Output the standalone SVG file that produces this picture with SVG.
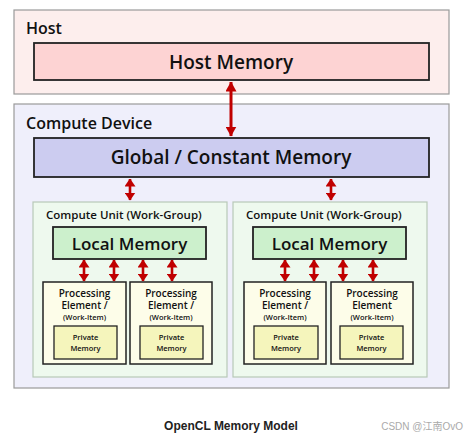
<svg xmlns="http://www.w3.org/2000/svg" width="474" height="438" viewBox="0 0 474 438">
<style>
text{font-family:"Open Sans","DejaVu Sans",sans-serif;fill:#111;font-weight:600}
.outer{stroke:#9a9a9a;stroke-width:1.2}
.mem{stroke:#222;stroke-width:1.8}
.cu{fill:#eef9ee;stroke:#b8c8b8;stroke-width:1.2}
.pe{fill:#fdfde9;stroke:#222;stroke-width:1.5}
.pm{fill:#f5f5bc;stroke:#222;stroke-width:1.3}
.pt{font-size:10px;text-anchor:middle}
.wi{font-size:7.5px;text-anchor:middle;font-weight:600}
.pmt{font-size:7.5px;text-anchor:middle}
.arr{stroke:#c00000;stroke-width:2.6;fill:none;marker-start:url(#ah);marker-end:url(#ah)}
.big{stroke-width:3;marker-start:url(#ahb);marker-end:url(#ahb)}
</style>
<defs>
<marker id="ah" viewBox="0 0 8 11" refX="7.5" refY="5.5" markerWidth="8" markerHeight="11" orient="auto-start-reverse" markerUnits="userSpaceOnUse">
<path d="M0,0 L8,5.5 L0,11 z" fill="#c00000"/>
</marker>
<marker id="ahb" viewBox="0 0 10 11" refX="9.5" refY="5.5" markerWidth="10" markerHeight="11" orient="auto-start-reverse" markerUnits="userSpaceOnUse">
<path d="M0,0 L10,5.5 L0,11 z" fill="#c00000"/>
</marker>
</defs>
<rect width="474" height="438" fill="#fff"/>
<g id="host">
<rect class="outer" x="14" y="10" width="435" height="84" fill="#fdeeed"/>
<text x="26" y="34" font-size="16">Host</text>
</g>
<g id="host-memory">
<rect class="mem" x="34" y="43" width="395" height="37" fill="#fdd3d3"/>
<text x="231" y="69" font-size="19" text-anchor="middle">Host Memory</text>
</g>
<g id="compute-device">
<rect class="outer" x="14" y="104" width="435" height="284" fill="#efeffb"/>
<text x="26" y="129" font-size="16">Compute Device</text>
</g>
<g id="global-memory">
<rect class="mem" x="34" y="138" width="395" height="39" fill="#ccccf0"/>
<text x="231" y="164" font-size="19" text-anchor="middle">Global / Constant Memory</text>
</g>
<g id="cu1">
<rect class="cu" x="33" y="202" width="194" height="175"/>
<text x="46" y="219" font-size="11.5">Compute Unit (Work-Group)</text>
</g>
<g id="lm1">
<rect class="mem" x="53" y="227" width="153" height="32" fill="#ccf0cc"/>
<text x="129.5" y="250" font-size="17" text-anchor="middle">Local Memory</text>
</g>
<g id="cu2">
<rect class="cu" x="233" y="202" width="194" height="175"/>
<text x="246" y="219" font-size="11.5">Compute Unit (Work-Group)</text>
</g>
<g id="lm2">
<rect class="mem" x="253" y="227" width="153" height="32" fill="#ccf0cc"/>
<text x="329.5" y="250" font-size="17" text-anchor="middle">Local Memory</text>
</g>
<g id="pe1">
<rect class="pe" x="43" y="282" width="83" height="82"/>
<text class="pt" x="84.5" y="297">Processing</text>
<text class="pt" x="84.5" y="309">Element /</text>
<text class="wi" x="84.5" y="320">(Work-Item)</text>
<rect class="pm" x="54" y="326" width="63" height="33"/>
<text class="pmt" x="85.5" y="340">Private</text>
<text class="pmt" x="85.5" y="351">Memory</text>
</g>
<g id="pe2">
<rect class="pe" x="130" y="282" width="82" height="82"/>
<text class="pt" x="171" y="297">Processing</text>
<text class="pt" x="171" y="309">Element /</text>
<text class="wi" x="171" y="320">(Work-Item)</text>
<rect class="pm" x="140" y="326" width="63" height="33"/>
<text class="pmt" x="171.5" y="340">Private</text>
<text class="pmt" x="171.5" y="351">Memory</text>
</g>
<g id="pe3">
<rect class="pe" x="244" y="282" width="82" height="82"/>
<text class="pt" x="285" y="297">Processing</text>
<text class="pt" x="285" y="309">Element /</text>
<text class="wi" x="285" y="320">(Work-Item)</text>
<rect class="pm" x="254" y="326" width="64" height="33"/>
<text class="pmt" x="286" y="340">Private</text>
<text class="pmt" x="286" y="351">Memory</text>
</g>
<g id="pe4">
<rect class="pe" x="331" y="282" width="82" height="82"/>
<text class="pt" x="372" y="297">Processing</text>
<text class="pt" x="372" y="309">Element</text>
<text class="wi" x="372" y="320">(Work-Item)</text>
<rect class="pm" x="340" y="326" width="63" height="33"/>
<text class="pmt" x="371.5" y="340">Private</text>
<text class="pmt" x="371.5" y="351">Memory</text>
</g>
<g id="connectors">
<line class="arr big" x1="231" y1="82" x2="231" y2="136"/>
<line class="arr" x1="130" y1="179" x2="130" y2="200"/>
<line class="arr" x1="331" y1="179" x2="331" y2="200"/>
<line class="arr" x1="84" y1="260" x2="84" y2="281"/>
<line class="arr" x1="114" y1="260" x2="114" y2="281"/>
<line class="arr" x1="143" y1="260" x2="143" y2="281"/>
<line class="arr" x1="172" y1="260" x2="172" y2="281"/>
<line class="arr" x1="285" y1="260" x2="285" y2="281"/>
<line class="arr" x1="314" y1="260" x2="314" y2="281"/>
<line class="arr" x1="343" y1="260" x2="343" y2="281"/>
<line class="arr" x1="373" y1="260" x2="373" y2="281"/>
</g>
<text x="231" y="430" font-size="12" text-anchor="middle" style="font-family:'Liberation Sans',Arial,sans-serif;fill:#222;font-weight:bold">OpenCL Memory Model</text>
<text x="463" y="430" font-size="10" text-anchor="end" style="font-family:'Liberation Sans','Noto Sans CJK SC',sans-serif;fill:#aaa;font-weight:normal">CSDN @江南OvO</text>
</svg>
